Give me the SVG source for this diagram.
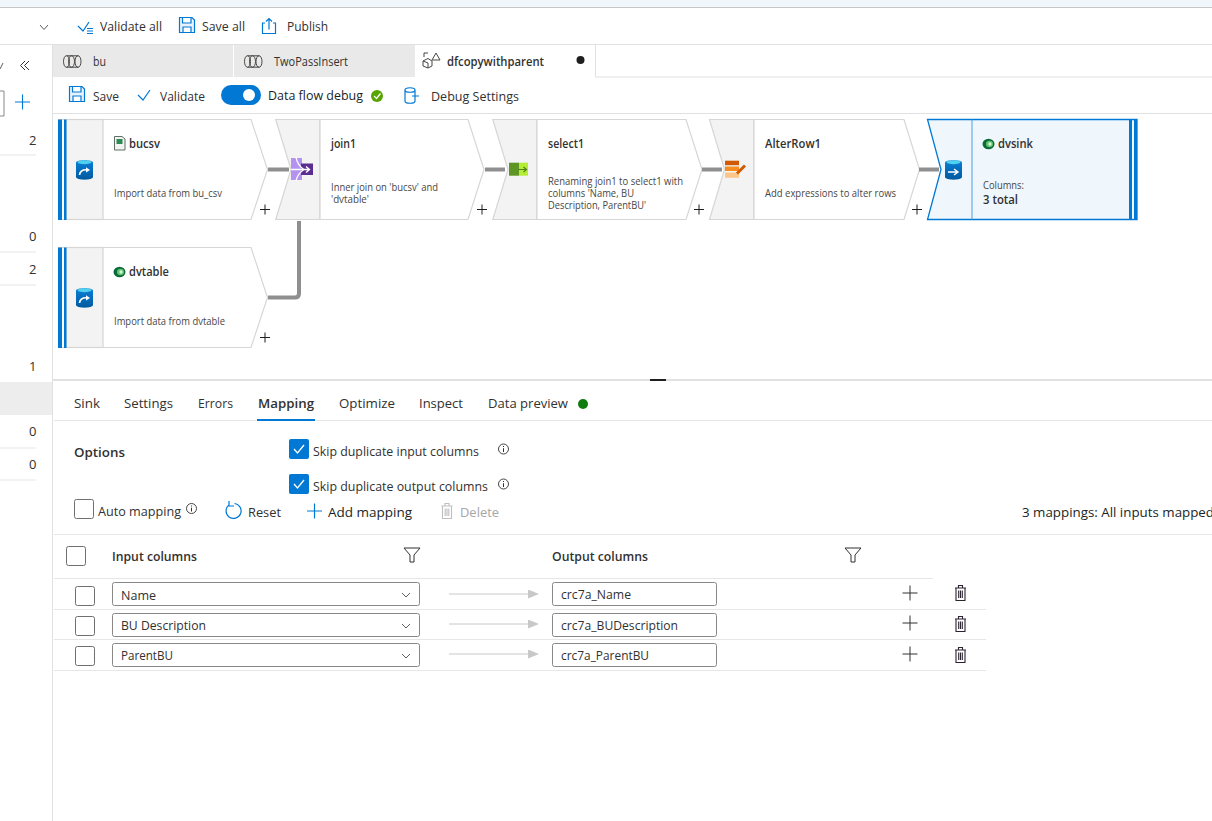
<svg xmlns="http://www.w3.org/2000/svg" width="1212" height="821" viewBox="0 0 1212 821">
<style>
text{font-family:"Open Sans","Noto Sans","Liberation Sans",sans-serif;fill:#323130;font-size:13px}
.b{font-weight:600}
.s{font-size:10px;fill:#484644}
.t{font-size:12px;font-weight:600;fill:#323130}
.d{fill:#201f1f}
.g{fill:#a6a6a6}
.node{fill:#fff;stroke:#d8d6d4;stroke-width:1.200}
.panel{fill:#f3f3f3;stroke:#d8d6d4;stroke-width:1.200}
.sel{fill:#eff6fc;stroke:#0078d4;stroke-width:1.300}
.bar{fill:#0078d4}
.conn{stroke:#8f8f8f;stroke-width:4;fill:none;stroke-linejoin:round}
.map{stroke:#c8c8c8;stroke-width:1;fill:none;marker-end:url(#ah)}
.rule{stroke:#e6e6e6;stroke-width:1.200;fill:none}
.box{fill:#fff;stroke:#8a8886;stroke-width:1}
.cb{fill:#fff;stroke:#6f6f6f;stroke-width:1}
.ico{fill:none;stroke:#0078d4;stroke-width:1.200}
.chev{fill:none;stroke:#605e5c;stroke-width:1}
</style>
<defs>
<marker id="ah" markerWidth="11" markerHeight="9" refX="0" refY="4.500" orient="auto" markerUnits="userSpaceOnUse"><path d="M0 0L11 4.500L0 9Z" fill="#c8c8c8"/></marker>
<linearGradient id="cy" x1="0" y1="0" x2="0" y2="1"><stop offset="0" stop-color="#0a7fd8"/><stop offset="1" stop-color="#005a9e"/></linearGradient>
<g id="cyl"><path d="M0 3.500C0 .5 17 .5 17 3.500V18C17 21.500 0 21.500 0 18Z" fill="url(#cy)"/><ellipse cx="8.500" cy="3.200" rx="7" ry="2" fill="#50d0ee"/></g>
<g id="srcico"><use href="#cyl"/><path d="M3.500 16C4 12.500 7 10.500 11 10.800" fill="none" stroke="#fff" stroke-width="1.700"/><path d="M10 8.200L14 11L10 13.500Z" fill="#fff"/></g>
<g id="dv"><ellipse cx="6" cy="6" rx="6" ry="5.200" fill="#0b6a3b"/><ellipse cx="7" cy="6" rx="3.500" ry="3.200" fill="#5fc46f"/><ellipse cx="7.500" cy="6" rx="1.600" ry="1.800" fill="#d9f3dd"/></g>
<g id="info"><circle cx="0" cy="0" r="5" fill="#fff" stroke="#323130" stroke-width=".9"/><path d="M0 -.8V3M0 -3V-2" stroke="#323130" stroke-width="1"/></g>
<g id="tr"><path d="M-5.500 -5H5.500M-2 -5V-7.500H2V-5M-4.500 -5V7.500H4.500V-5M-1.800 -2.500V5M0 -2.500V5M1.800 -2.500V5" fill="none" stroke="#2b2430" stroke-width="1.100"/></g>
<path id="pl" d="M-7.500 0H7.500M0 -7.500V7.500" fill="none" stroke="#323130" stroke-width="1"/>
<path id="pn" d="M-5 0H5M0 -5V5" fill="none" stroke="#201f1f" stroke-width="1"/>
<path id="ft" d="M-8 -7H8L2 0V7L-2 7V0Z" fill="none" stroke="#323130" stroke-width="1"/>
<path id="cv" d="M-4 -2L0 2L4 -2" fill="none" stroke="#605e5c" stroke-width="1"/>
<path id="ck" d="M-5 0L-1.500 4L5 -4" fill="none" stroke="#fff" stroke-width="1.300"/>
<g id="flop"><path d="M.5 .5H13L15.500 3V15.500H.5Z" fill="#eaf3fb" stroke="#0078d4" stroke-width="1.200"/><path d="M3.500 1V6H12V1" fill="#fff" stroke="#0078d4" stroke-width="1.200"/><path d="M4 15V10H12V15" fill="#fff" stroke="#0078d4" stroke-width="1.200"/></g>
<g id="pipe"><path d="M3.500 .8H15" fill="none" stroke="#484644"/><path d="M3.500 12.200H15" fill="none" stroke="#484644"/><ellipse cx="3.500" cy="6.500" rx="3" ry="5.800" fill="none" stroke="#484644"/><ellipse cx="8.500" cy="6.500" rx="3" ry="5.800" fill="none" stroke="#484644"/><ellipse cx="15" cy="6.500" rx="3" ry="5.800" fill="none" stroke="#484644"/></g>
</defs>
<rect width="1212" height="821" fill="#fff"/>

<g id="topbar">
<rect width="1212" height="7" fill="#eff6fc"/><rect y="7" width="1212" height="1" fill="#c8c6c4"/>
<path d="M40 25L44 29.500L48 25" class="chev"/>
<path d="M78 26L83 31L89 22" class="ico"/><path d="M87 28.500H93M87 31H93M87 33.500H93" class="ico"/>
<text x="100" y="31" textLength="62" lengthAdjust="spacingAndGlyphs">Validate all</text>
<use href="#flop" x="179" y="17"/>
<text x="202" y="31" textLength="43" lengthAdjust="spacingAndGlyphs">Save all</text>
<path d="M265 23H262.500V33.500H275.500V23H273M269 29.500V18.500M266 21.500L269 18.500L272 21.500" class="ico"/>
<text x="287" y="31" textLength="41" lengthAdjust="spacingAndGlyphs">Publish</text>
<rect y="44" x="0" width="1212" height="1" fill="#e1e1e1"/>
</g>

<g id="sidebar">
<path d="M0 69L3 63" class="chev"/>
<path d="M25 61L20.500 65.500L25 70M29 61L24.500 65.500L29 70" fill="none" stroke="#323130"/>
<path d="M0 91H4V116H0" fill="none" stroke="#8a8886"/>
<path d="M15 102H30M22.500 94.500V109.500" fill="none" stroke="#0078d4" stroke-width="1.100"/>
<text x="29" y="145">2</text><path d="M0 155H36M0 252H36M0 285H36M0 448H36M0 480H36" class="rule"/>
<text x="29" y="241">0</text><text x="29" y="274">2</text><text x="29" y="371">1</text>
<rect x="0" y="382" width="52" height="33" fill="#ededed"/>
<text x="29" y="436">0</text><text x="29" y="469">0</text>
<rect x="52" y="44" width="1" height="777" fill="#e1e1e1"/>
</g>

<g id="tabs">
<rect x="53" y="45" width="362" height="32" fill="#e9e9e9"/><rect x="233" y="45" width="1" height="32" fill="#fff"/>
<path d="M595.500 45V77H1212" fill="none" stroke="#e1e1e1"/>
<use href="#pipe" x="63" y="55"/><text x="93" y="66" style="font-size:12px" textLength="13" lengthAdjust="spacingAndGlyphs">bu</text>
<use href="#pipe" x="244" y="55"/><text x="274" y="66" style="font-size:12px" textLength="74" lengthAdjust="spacingAndGlyphs">TwoPassInsert</text>
<path d="M423 61L428 58.500L432 61V66L428 68L423 66ZM423 61L428 63V68M432 60L436 53L440 60ZM428 53L424 53V57" fill="none" stroke="#484644"/>
<text x="447" y="66" class="b" style="font-size:12px" textLength="97" lengthAdjust="spacingAndGlyphs">dfcopywithparent</text>
<circle cx="580.500" cy="60" r="4" fill="#201f1f"/>
</g>

<g id="dftoolbar">
<use href="#flop" x="69" y="86"/><text x="93" y="101" textLength="26" lengthAdjust="spacingAndGlyphs">Save</text>
<path d="M138 95L143 100L150 90" class="ico"/><text x="160" y="101" textLength="45" lengthAdjust="spacingAndGlyphs">Validate</text>
<rect x="221" y="85" width="40" height="20" rx="10" fill="#0078d4"/><circle cx="249" cy="95" r="6" fill="#fff"/>
<text x="268" y="100" class="d" textLength="95" lengthAdjust="spacingAndGlyphs">Data flow debug</text>
<circle cx="377" cy="96" r="6" fill="#57a300"/><path d="M374 96L376.500 98.500L380.500 93.500" fill="none" stroke="#fff" stroke-width="1.300"/>
<path d="M405 90C405 87 415 87 415 90V101C415 104 405 104 405 101ZM405 90C405 93 415 93 415 90M412 96H419" class="ico"/>
<text x="431" y="101" textLength="88" lengthAdjust="spacingAndGlyphs">Debug Settings</text>
<rect x="53" y="113" width="1159" height="1" fill="#e1e1e1"/>
</g>

<g id="node-bucsv">
<path class="node" d="M58.500 119.500H251L267.500 169.500L251 219.500H58.500Z"/>
<rect class="panel" x="66" y="119.500" width="37" height="100"/>
<rect class="bar" x="58" y="119.500" width="4" height="100.500"/><rect class="bar" x="64" y="119.500" width="2.500" height="100.500"/>
<use href="#srcico" x="76" y="159"/>
<path d="M114.500 136.500H122L125 139V150H114.500Z" fill="#f3f3f3" stroke="#5f6f66"/><rect x="116.500" y="139" width="6" height="5" fill="#2c8a55"/>
<text class="t" x="129" y="148" textLength="31" lengthAdjust="spacingAndGlyphs">bucsv</text>
<text class="s" x="114" y="197" textLength="108" lengthAdjust="spacingAndGlyphs">Import data from bu_csv</text>
<use href="#pn" x="265" y="209.500"/>
</g>

<g id="node-dvtable">
<path class="node" d="M58.500 247.500H251L267.500 297.500L251 347.500H58.500Z"/>
<rect class="panel" x="66" y="247.500" width="37" height="100"/>
<rect class="bar" x="58" y="247.500" width="4" height="100.500"/><rect class="bar" x="64" y="247.500" width="2.500" height="100.500"/>
<use href="#srcico" x="76" y="287"/>
<use href="#dv" x="113.500" y="266"/>
<text class="t" x="129" y="276" textLength="40" lengthAdjust="spacingAndGlyphs">dvtable</text>
<text class="s" x="114" y="325" textLength="111" lengthAdjust="spacingAndGlyphs">Import data from dvtable</text>
<use href="#pn" x="265" y="337.500"/>
</g>

<g id="node-join1">
<path class="panel" d="M275.700 119.500H320V219.500H275.700L291 169.500Z"/>
<path class="node" d="M320 119.500H468L484 169.500L468 219.500H320Z"/>
<rect x="291" y="158" width="11" height="22" fill="#b392f0"/>
<rect x="301" y="163.500" width="12" height="11.500" fill="#5c2d91"/>
<path d="M296 157C297 163 300 167 304 169.500C300 172 297 176 296 181M291 169.500H309M306 166.500L309.500 169.500L306 172.500" fill="none" stroke="#fff" stroke-width="1.400"/>
<text class="t" x="331" y="148" textLength="25" lengthAdjust="spacingAndGlyphs">join1</text>
<text class="s" x="331" y="191" textLength="107" lengthAdjust="spacingAndGlyphs">Inner join on 'bucsv' and</text>
<text class="s" x="331" y="203" textLength="38" lengthAdjust="spacingAndGlyphs">'dvtable'</text>
<use href="#pn" x="482" y="209.500"/>
</g>

<g id="node-select1">
<path class="panel" d="M492.800 119.500H537V219.500H492.800L508 169.500Z"/>
<path class="node" d="M537 119.500H686L702 169.500L686 219.500H537Z"/>
<rect x="509" y="162.700" width="10" height="13" fill="#5e9624"/><rect x="519" y="162.700" width="9" height="13" fill="#b4ec36"/>
<path d="M518 169.500H526M523.500 167L526.500 169.500L523.500 172" fill="none" stroke="#4f7f1e" stroke-width="1.200"/>
<text class="t" x="548" y="148" textLength="36" lengthAdjust="spacingAndGlyphs">select1</text>
<text class="s" x="548" y="185" textLength="135" lengthAdjust="spacingAndGlyphs">Renaming join1 to select1 with</text>
<text class="s" x="548" y="197" textLength="86" lengthAdjust="spacingAndGlyphs">columns 'Name, BU</text>
<text class="s" x="548" y="209" textLength="98" lengthAdjust="spacingAndGlyphs">Description, ParentBU'</text>
<use href="#pn" x="699" y="209.500"/>
</g>

<g id="node-alterrow1">
<path class="panel" d="M709.500 119.500H754V219.500H709.500L724.500 169.500Z"/>
<path class="node" d="M754 119.500H904L919.500 169.500L904 219.500H754Z"/>
<rect x="725" y="160.700" width="14" height="4.500" fill="#d15900"/><rect x="725" y="166.500" width="14" height="4.500" fill="#f78d1e"/><rect x="725" y="172.500" width="14" height="5.300" fill="#fcc58a"/>
<path d="M737 173.500L745 165.500" stroke="#d15900" stroke-width="3" fill="none"/>
<text class="t" x="765" y="148" textLength="56" lengthAdjust="spacingAndGlyphs">AlterRow1</text>
<text class="s" x="765" y="197" textLength="131" lengthAdjust="spacingAndGlyphs">Add expressions to alter rows</text>
<use href="#pn" x="917" y="209.500"/>
</g>

<g id="node-dvsink">
<path class="sel" d="M927.500 119.500H1137V219.500H927.500L941 169.500Z"/>
<path d="M972 119.500V219.500" fill="none" stroke="#4aa0e0" stroke-width="1"/>
<rect class="bar" x="1129" y="119.500" width="3" height="100.500"/><rect class="bar" x="1134" y="119.500" width="3" height="100.500"/>
<use href="#cyl" x="945" y="159"/><path d="M948 172H957M954 169L958 172L954 175" fill="none" stroke="#fff" stroke-width="1.400"/>
<use href="#dv" x="982.500" y="138"/>
<text class="t" x="998" y="148" textLength="35" lengthAdjust="spacingAndGlyphs">dvsink</text>
<text class="s" x="983" y="189" textLength="41" lengthAdjust="spacingAndGlyphs">Columns:</text>
<text class="t" x="983" y="204" textLength="35" lengthAdjust="spacingAndGlyphs">3 total</text>
</g>

<g id="connectors">
<path class="conn" d="M268 169.500H289"/>
<path class="conn" d="M485 169.500H505"/>
<path class="conn" d="M702 169.500H722"/>
<path class="conn" d="M919 169.500H939"/>
<path class="conn" d="M268 297.500H295Q299 297.500 299 293.500V221"/>
</g>

<g id="panel">
<rect x="53" y="379" width="1159" height="2" fill="#e1e1e1"/><rect x="650" y="379" width="16" height="2" fill="#201f1f"/>
<text x="74" y="408" textLength="26" lengthAdjust="spacingAndGlyphs">Sink</text>
<text x="124" y="408" textLength="49" lengthAdjust="spacingAndGlyphs">Settings</text>
<text x="198" y="408" textLength="35" lengthAdjust="spacingAndGlyphs">Errors</text>
<text x="258" y="408" class="b" textLength="56" lengthAdjust="spacingAndGlyphs">Mapping</text>
<text x="339" y="408" textLength="56" lengthAdjust="spacingAndGlyphs">Optimize</text>
<text x="419" y="408" textLength="44" lengthAdjust="spacingAndGlyphs">Inspect</text>
<text x="488" y="408" textLength="80" lengthAdjust="spacingAndGlyphs">Data preview</text>
<circle cx="583" cy="404" r="5" fill="#107c10"/>
<path d="M54 420.500H1212" class="rule"/><rect x="257" y="419" width="58" height="2" fill="#0078d4"/>
<text x="74" y="457" class="b" textLength="51" lengthAdjust="spacingAndGlyphs">Options</text>
<rect x="289" y="439" width="20" height="20" rx="2" fill="#0078d4"/><use href="#ck" x="299" y="449"/>
<text x="313" y="456" textLength="166" lengthAdjust="spacingAndGlyphs">Skip duplicate input columns</text>
<use href="#info" x="503.500" y="449"/>
<rect x="289" y="474" width="20" height="20" rx="2" fill="#0078d4"/><use href="#ck" x="299" y="484"/>
<text x="313" y="491" textLength="175" lengthAdjust="spacingAndGlyphs">Skip duplicate output columns</text>
<use href="#info" x="503.500" y="484"/>
<rect class="cb" x="74.500" y="499.500" width="19" height="19" rx="2"/>
<text x="98" y="516" textLength="83" lengthAdjust="spacingAndGlyphs">Auto mapping</text>
<use href="#info" x="191.500" y="508.500"/>
<path d="M229 505A7.500 7.500 0 1 0 234.500 503.500M229 501V506H234" class="ico"/>
<text x="248" y="517" textLength="33" lengthAdjust="spacingAndGlyphs">Reset</text>
<path d="M307 511H322M314.500 503.500V518.500" class="ico"/>
<text x="328" y="517" class="d" textLength="84" lengthAdjust="spacingAndGlyphs">Add mapping</text>
<use href="#tr" x="447" y="511" opacity=".3"/>
<text x="460" y="517" class="g" textLength="39" lengthAdjust="spacingAndGlyphs">Delete</text>
<text x="1022" y="517" class="d" textLength="192" lengthAdjust="spacingAndGlyphs">3 mappings: All inputs mapped</text>
<path d="M54 534.500H1212" class="rule"/>
</g>

<g id="mapping">
<rect class="cb" x="66.500" y="546.500" width="19" height="19" rx="2"/>
<text x="112" y="561" class="b" textLength="85" lengthAdjust="spacingAndGlyphs">Input columns</text>
<use href="#ft" x="412" y="555"/>
<text x="552" y="561" class="b" textLength="96" lengthAdjust="spacingAndGlyphs">Output columns</text>
<use href="#ft" x="853" y="555"/>
<path d="M54 578.500H933M54 609.500H986M54 639.500H986M54 670.500H986" class="rule"/>

<rect class="cb" x="75.500" y="586.500" width="19" height="19" rx="2"/>
<rect class="box" x="112.500" y="582.500" width="307" height="23" rx="2"/>
<text x="121" y="600" textLength="35" lengthAdjust="spacingAndGlyphs">Name</text><use href="#cv" x="406" y="595"/>
<path class="map" d="M449 594H528"/>
<rect class="box" x="552.500" y="582.500" width="164" height="23" rx="2"/>
<text x="561" y="599" textLength="70" lengthAdjust="spacingAndGlyphs">crc7a_Name</text>
<use href="#pl" x="910" y="593"/><use href="#tr" x="960.500" y="593"/>

<rect class="cb" x="75.500" y="616.500" width="19" height="19" rx="2"/>
<rect class="box" x="112.500" y="613.500" width="307" height="23" rx="2"/>
<text x="121" y="630" textLength="85" lengthAdjust="spacingAndGlyphs">BU Description</text><use href="#cv" x="406" y="626"/>
<path class="map" d="M449 624H528"/>
<rect class="box" x="552.500" y="613.500" width="164" height="23" rx="2"/>
<text x="561" y="630" textLength="117" lengthAdjust="spacingAndGlyphs">crc7a_BUDescription</text>
<use href="#pl" x="910" y="623"/><use href="#tr" x="960.500" y="624"/>

<rect class="cb" x="75.500" y="646.500" width="19" height="19" rx="2"/>
<rect class="box" x="112.500" y="643.500" width="307" height="23" rx="2"/>
<text x="121" y="660" textLength="52" lengthAdjust="spacingAndGlyphs">ParentBU</text><use href="#cv" x="406" y="656"/>
<path class="map" d="M449 654H528"/>
<rect class="box" x="552.500" y="643.500" width="164" height="23" rx="2"/>
<text x="561" y="660" textLength="88" lengthAdjust="spacingAndGlyphs">crc7a_ParentBU</text>
<use href="#pl" x="910" y="654"/><use href="#tr" x="960.500" y="655"/>
</g>
</svg>
